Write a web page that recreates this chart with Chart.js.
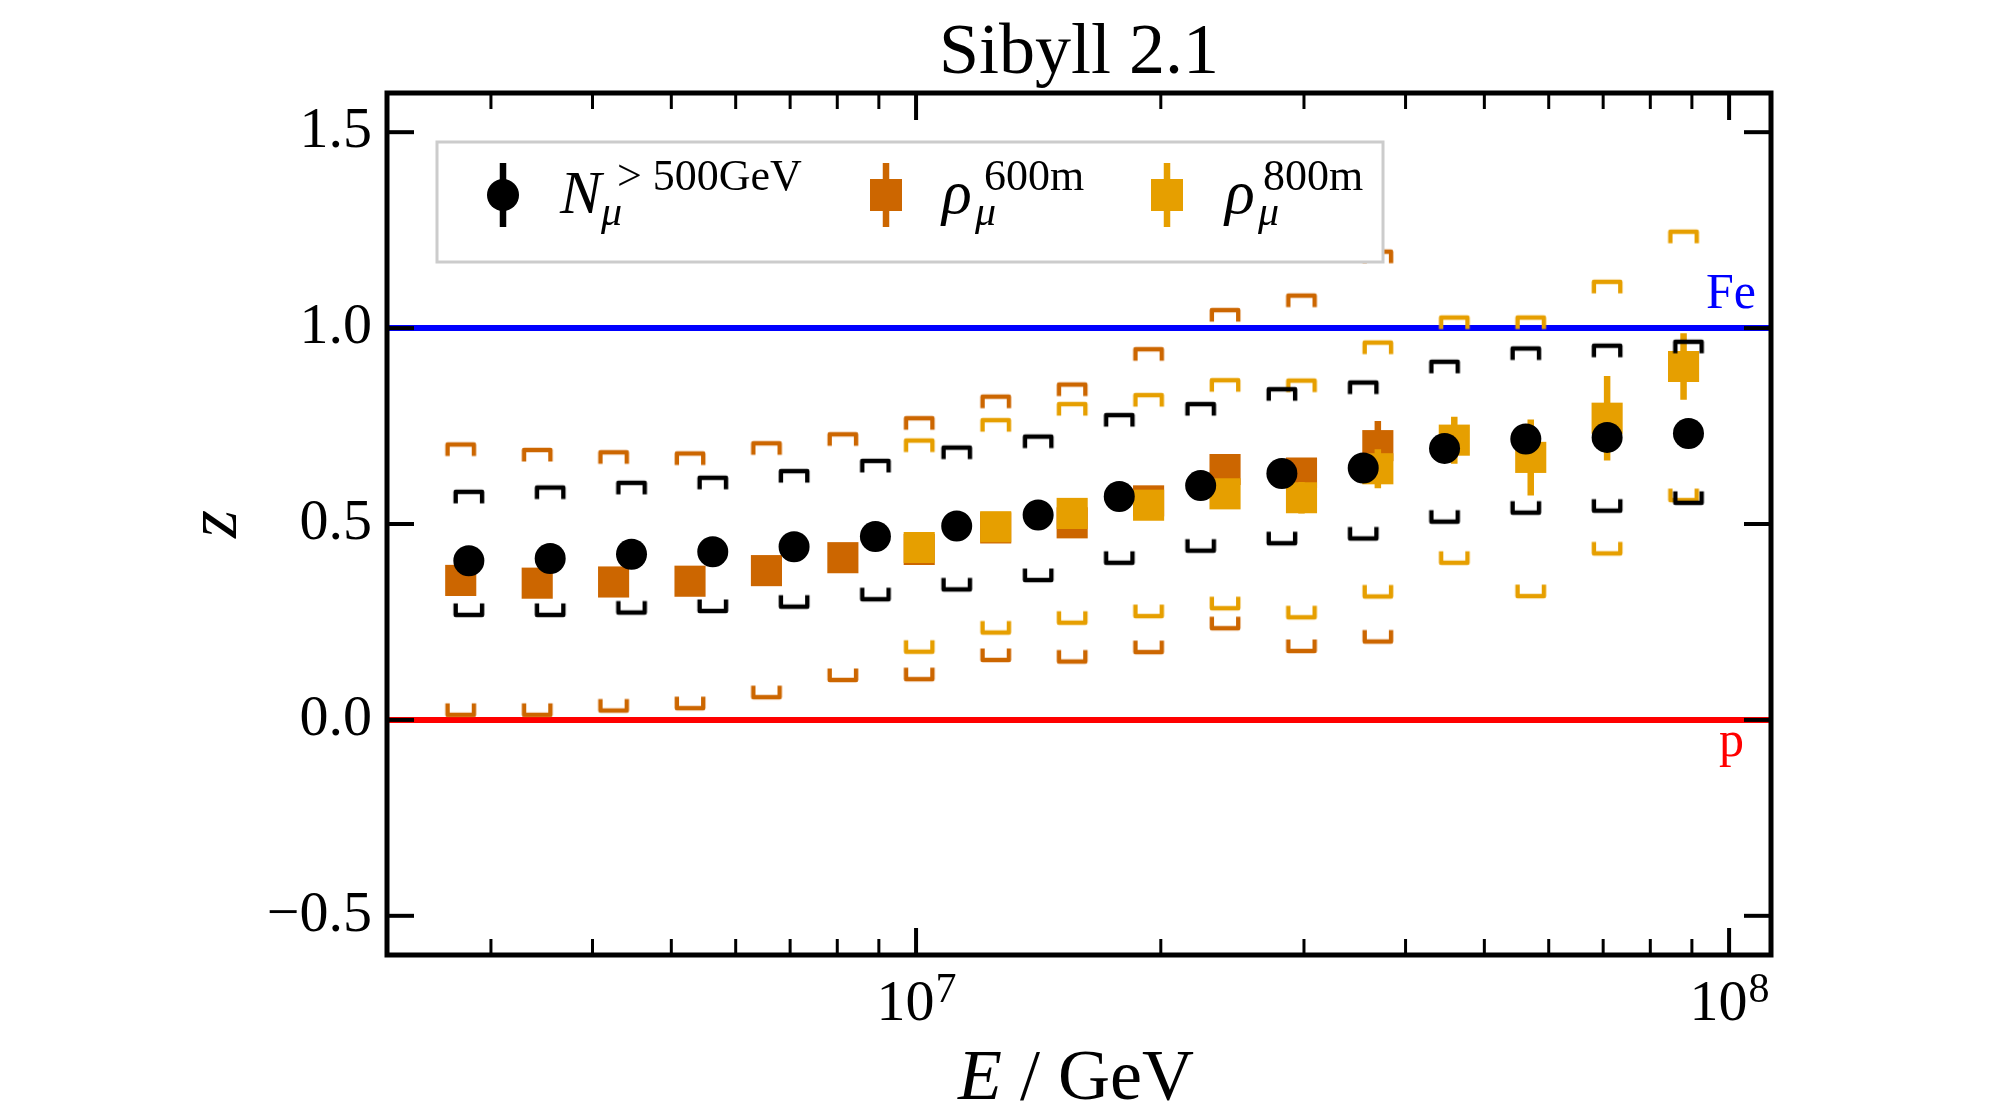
<!DOCTYPE html>
<html><head><meta charset="utf-8">
<script src="https://cdn.jsdelivr.net/npm/chart.js@4.4.1/dist/chart.umd.min.js"></script>
<style>html,body{margin:0;padding:0;background:#fff;overflow:hidden}canvas{display:block}</style>
</head><body>
<canvas id="c" width="1996" height="1110" style="width:1996px;height:1110px"></canvas>
<script>
// ---------------- data ----------------
const chartTitle = 'Sibyll 2.1';
const xAxisMin = 2.235e6, xAxisMax = 1.126e8;
const yAxisMin = -0.6, yAxisMax = 1.6;
const yTickValues = [-0.5, 0.0, 0.5, 1.0, 1.5];
const xMajorTicks = [1e7, 1e8];
const xTickBases = ['10', '10'];
const xTickExps = ['7', '8'];
const xMinorTicks = [3e6, 4e6, 5e6, 6e6, 7e6, 8e6, 9e6, 2e7, 3e7, 4e7, 5e7, 6e7, 7e7, 8e7, 9e7];
const ironLevel = 1.0, protonLevel = 0.0;

// N_mu (>500 GeV)
const nmuEnergy = [2.818e6, 3.548e6, 4.467e6, 5.623e6, 7.079e6, 8.913e6, 1.122e7, 1.413e7, 1.778e7, 2.239e7, 2.818e7, 3.548e7, 4.467e7, 5.623e7, 7.079e7, 8.913e7];
const nmuZ      = [0.406, 0.412, 0.423, 0.429, 0.442, 0.468, 0.495, 0.523, 0.570, 0.598, 0.629, 0.643, 0.693, 0.717, 0.721, 0.731];
const nmuStat   = [0.010, 0.010, 0.010, 0.010, 0.010, 0.012, 0.012, 0.012, 0.015, 0.015, 0.015, 0.018, 0.018, 0.020, 0.020, 0.022];
const nmuSysHi  = [0.582, 0.593, 0.605, 0.618, 0.635, 0.661, 0.695, 0.723, 0.778, 0.806, 0.844, 0.861, 0.914, 0.948, 0.955, 0.965];
const nmuSysLo  = [0.268, 0.268, 0.274, 0.278, 0.289, 0.308, 0.333, 0.357, 0.401, 0.432, 0.451, 0.463, 0.506, 0.529, 0.534, 0.554];

// rho_mu 600 m
const rho600Energy = [2.754e6, 3.420e6, 4.246e6, 5.272e6, 6.546e6, 8.128e6, 1.009e7, 1.253e7, 1.556e7, 1.932e7, 2.399e7, 2.979e7, 3.698e7];
const rho600Z      = [0.356, 0.349, 0.352, 0.354, 0.381, 0.414, 0.435, 0.490, 0.503, 0.559, 0.639, 0.630, 0.700];
const rho600Stat   = [0.010, 0.010, 0.010, 0.010, 0.015, 0.015, 0.020, 0.020, 0.030, 0.030, 0.035, 0.035, 0.063];
const rho600SysHi  = [0.703, 0.689, 0.683, 0.680, 0.706, 0.729, 0.770, 0.825, 0.856, 0.946, 1.046, 1.083, 1.195];
const rho600SysLo  = [0.013, 0.013, 0.024, 0.030, 0.058, 0.102, 0.104, 0.153, 0.149, 0.173, 0.234, 0.176, 0.200];

// rho_mu 800 m
const rho800Energy = [1.009e7, 1.253e7, 1.556e7, 1.932e7, 2.399e7, 2.979e7, 3.698e7, 4.592e7, 5.702e7, 7.079e7, 8.790e7];
const rho800Z      = [0.440, 0.493, 0.527, 0.548, 0.577, 0.567, 0.641, 0.714, 0.670, 0.770, 0.902];
const rho800Stat   = [0.020, 0.020, 0.030, 0.030, 0.030, 0.040, 0.050, 0.060, 0.097, 0.108, 0.085];
const rho800SysHi  = [0.713, 0.765, 0.806, 0.829, 0.867, 0.866, 0.963, 1.027, 1.027, 1.118, 1.246];
const rho800SysLo  = [0.174, 0.223, 0.248, 0.265, 0.285, 0.262, 0.315, 0.401, 0.316, 0.425, 0.561];

// legend texts
const legendMain = ['N', '\u03C1', '\u03C1'];
const legendSub  = ['\u03BC', '\u03BC', '\u03BC'];
const legendSup  = ['> 500GeV', '600m', '800m'];

// ---------------- styles ----------------
const colNmu = '#000000', col600 = '#CC6600', col800 = '#E69F00';
const colFe = '#0000FF', colP = '#FF0000';
const SERIF = '"Liberation Serif", "Times New Roman", serif';

function makeCap(color, dir) {
  const c = document.createElement('canvas');
  c.width = 40; c.height = 40;
  const g = c.getContext('2d');
  g.strokeStyle = color; g.lineWidth = 4.4; g.lineCap = 'butt'; g.lineJoin = 'round';
  const cx = 20, cy = 20, hw = 13.2, leg = 11.5;
  g.beginPath();
  g.moveTo(cx - hw, cy + dir * leg); g.lineTo(cx - hw, cy); g.lineTo(cx + hw, cy); g.lineTo(cx + hw, cy + dir * leg);
  g.stroke();
  return c;
}

function pts(xs, ys) { return xs.map((x, i) => ({x: x, y: ys[i]})); }
function errPts(xs, ys, es) {
  const out = [];
  xs.forEach((x, i) => { out.push({x: x, y: ys[i] - es[i]}); out.push({x: x, y: ys[i] + es[i]}); out.push({x: x, y: null}); });
  return out;
}
function capSet(xs, ys, color, dir, order) {
  return {data: pts(xs, ys), pointStyle: makeCap(color, dir), pointRadius: 15, showLine: false, order: order};
}
function errSet(xs, ys, es, color, order) {
  return {data: errPts(xs, ys, es), showLine: true, spanGaps: false, borderColor: color, borderWidth: 6.5,
          borderCapStyle: 'butt', pointRadius: 0, order: order};
}

const datasets = [
  {data: [{x: xAxisMin, y: ironLevel}, {x: xAxisMax, y: ironLevel}], showLine: true, borderColor: colFe, borderWidth: 6, pointRadius: 0, order: 20},
  {data: [{x: xAxisMin, y: protonLevel}, {x: xAxisMax, y: protonLevel}], showLine: true, borderColor: colP, borderWidth: 6, pointRadius: 0, order: 20},
  capSet(rho600Energy, rho600SysHi, col600, 1, 12),
  capSet(rho600Energy, rho600SysLo, col600, -1, 12),
  errSet(rho600Energy, rho600Z, rho600Stat, col600, 11),
  {data: pts(rho600Energy, rho600Z), pointStyle: 'rect', pointRadius: 22, borderWidth: 0, backgroundColor: col600, order: 10},
  capSet(rho800Energy, rho800SysHi, col800, 1, 9),
  capSet(rho800Energy, rho800SysLo, col800, -1, 9),
  errSet(rho800Energy, rho800Z, rho800Stat, col800, 8),
  {data: pts(rho800Energy, rho800Z), pointStyle: 'rect', pointRadius: 22, borderWidth: 0, backgroundColor: col800, order: 7},
  capSet(nmuEnergy, nmuSysHi, colNmu, 1, 6),
  capSet(nmuEnergy, nmuSysLo, colNmu, -1, 6),
  errSet(nmuEnergy, nmuZ, nmuStat, colNmu, 5),
  {data: pts(nmuEnergy, nmuZ), pointStyle: 'circle', pointRadius: 15.5, borderWidth: 0, backgroundColor: colNmu, order: 4}
];

const decorPlugin = {
  id: 'decor',
  afterDatasetsDraw(chart) {
    const ctx = chart.ctx, ca = chart.chartArea, xs = chart.scales.x, ys = chart.scales.y;
    ctx.save();
    // Fe / p labels
    ctx.font = '50px ' + SERIF; ctx.textAlign = 'right'; ctx.textBaseline = 'alphabetic';
    ctx.fillStyle = colFe; ctx.fillText('Fe', ca.right - 15, ys.getPixelForValue(ironLevel) - 20);
    ctx.fillStyle = colP; ctx.fillText('p', ca.right - 27, ys.getPixelForValue(protonLevel) + 36);

    // ticks (inward, all four sides)
    ctx.strokeStyle = '#000'; ctx.lineCap = 'butt';
    const vline = (x, y1, y2, w) => { ctx.lineWidth = w; ctx.beginPath(); ctx.moveTo(x, y1); ctx.lineTo(x, y2); ctx.stroke(); };
    const hline = (x1, x2, y, w) => { ctx.lineWidth = w; ctx.beginPath(); ctx.moveTo(x1, y); ctx.lineTo(x2, y); ctx.stroke(); };
    xMajorTicks.forEach(v => { const px = xs.getPixelForValue(v); vline(px, ca.bottom, ca.bottom - 27, 4); vline(px, ca.top, ca.top + 27, 4); });
    xMinorTicks.forEach(v => { const px = xs.getPixelForValue(v); vline(px, ca.bottom, ca.bottom - 16, 3); vline(px, ca.top, ca.top + 16, 3); });
    yTickValues.forEach(v => { const py = ys.getPixelForValue(v); hline(ca.left, ca.left + 27, py, 4); hline(ca.right, ca.right - 27, py, 4); });
    // frame
    ctx.lineWidth = 5; ctx.lineJoin = 'miter';
    ctx.strokeRect(ca.left, ca.top, ca.right - ca.left, ca.bottom - ca.top);

    // x tick labels 10^n
    ctx.fillStyle = '#000'; ctx.textAlign = 'left';
    xMajorTicks.forEach((v, i) => {
      const px = xs.getPixelForValue(v);
      ctx.font = '58px ' + SERIF; const wb = ctx.measureText(xTickBases[i]).width;
      ctx.font = '42px ' + SERIF; const we = ctx.measureText(xTickExps[i]).width;
      const x0 = px - (wb + we) / 2;
      ctx.font = '58px ' + SERIF; ctx.fillText(xTickBases[i], x0, ca.bottom + 65);
      ctx.font = '42px ' + SERIF; ctx.fillText(xTickExps[i], x0 + wb + 1, ca.bottom + 47);
    });

    // title
    const cx = (ca.left + ca.right) / 2;
    ctx.font = '72px ' + SERIF; ctx.textAlign = 'center';
    ctx.fillText(chartTitle, cx, 73);

    // x axis title: E / GeV
    ctx.textAlign = 'left';
    ctx.font = 'italic 72px ' + SERIF; const wE = ctx.measureText('E').width;
    ctx.font = '72px ' + SERIF; const wR = ctx.measureText(' / GeV').width;
    const xt0 = cx - (wE + wR) / 2 - 3;
    ctx.font = 'italic 72px ' + SERIF; ctx.fillText('E', xt0, 1099);
    ctx.font = '72px ' + SERIF; ctx.fillText(' / GeV', xt0 + wE, 1099);

    // y axis title z (rotated)
    ctx.save();
    ctx.translate(236, (ca.top + ca.bottom) / 2);
    ctx.rotate(-Math.PI / 2);
    ctx.font = 'italic 72px ' + SERIF; ctx.textAlign = 'center';
    ctx.fillText('z', 0, 0);
    ctx.restore();

    // legend
    ctx.fillStyle = '#fff'; ctx.fillRect(437, 142, 946, 120);
    ctx.strokeStyle = '#cccccc'; ctx.lineWidth = 3; ctx.strokeRect(437, 142, 946, 120);
    const legX = [503, 886, 1167];
    const legCol = [colNmu, col600, col800];
    const legTextX = [560, 942, 1225];
    const supDx = [57, 42, 38];
    const subDx = [41, 33, 33];
    const my = 195;
    for (let i = 0; i < 3; i++) {
      ctx.strokeStyle = legCol[i]; ctx.lineWidth = 6.5; ctx.lineCap = 'butt';
      ctx.beginPath(); ctx.moveTo(legX[i], my - 32); ctx.lineTo(legX[i], my + 32); ctx.stroke();
      ctx.fillStyle = legCol[i];
      if (i === 0) { ctx.beginPath(); ctx.arc(legX[i], my, 16, 0, Math.PI * 2); ctx.fill(); }
      else { ctx.fillRect(legX[i] - 16, my - 16, 32, 32); }
      ctx.fillStyle = '#000'; ctx.textAlign = 'left';
      ctx.font = 'italic 62px ' + SERIF; ctx.fillText(legendMain[i], legTextX[i], 213);
      ctx.font = 'italic 42px ' + SERIF; ctx.fillText(legendSub[i], legTextX[i] + subDx[i], 225);
      ctx.font = '44px ' + SERIF; ctx.fillText(legendSup[i], legTextX[i] + supDx[i], 190);
    }
    ctx.restore();
  }
};

new Chart(document.getElementById('c'), {
  type: 'scatter',
  data: {datasets: datasets},
  options: {
    responsive: false, devicePixelRatio: 1, animation: false, events: [],
    layout: {padding: {left: 0, top: 93, right: 225, bottom: 0}},
    plugins: {legend: {display: false}, tooltip: {enabled: false}, title: {display: false}},
    scales: {
      x: {
        type: 'logarithmic', min: xAxisMin, max: xAxisMax,
        afterBuildTicks: s => { s.ticks = xMajorTicks.map(v => ({value: v, major: true})); },
        afterFit: s => { s.height = 155; },
        grid: {display: false, drawTicks: false}, border: {display: false},
        ticks: {display: false}
      },
      y: {
        min: yAxisMin, max: yAxisMax,
        afterBuildTicks: s => { s.ticks = yTickValues.map(v => ({value: v})); },
        afterFit: s => { s.width = 387; },
        grid: {display: false, drawTicks: false}, border: {display: false},
        ticks: {
          font: {family: SERIF, size: 58}, color: '#000', padding: 15,
          callback: v => Number(v).toFixed(1).replace('-', '\u2212')
        }
      }
    }
  },
  plugins: [decorPlugin]
});
</script>
</body></html>
